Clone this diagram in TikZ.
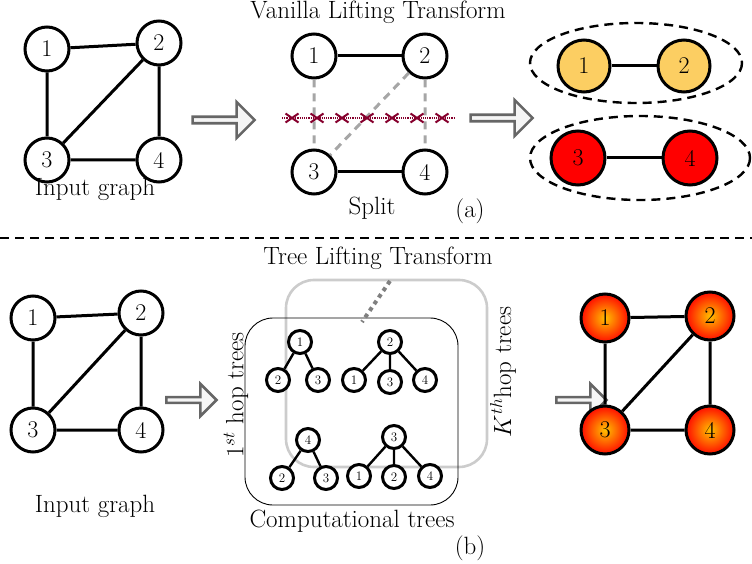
\documentclass[tikz,border=0pt]{standalone}
\usetikzlibrary{shapes.arrows,shapes.misc}
\begin{document}
\begin{tikzpicture}[x=1pt,y=-1pt,
  big/.style={circle,draw,line width=3pt,minimum size=44pt,inner sep=0pt,font=\fontsize{24}{26}\selectfont,fill=white},
  sm/.style={circle,draw,line width=3pt,minimum size=23pt,inner sep=0pt,font=\fontsize{13}{14}\selectfont,fill=white},
  ed/.style={line width=3pt},
  ged/.style={line width=3pt,gray!70,dash pattern=on 8pt off 6pt},
  harr/.style={single arrow,draw=gray!80!black,fill=gray!8,line width=2.6pt,minimum height=62pt,minimum width=36pt,single arrow head extend=6pt,inner sep=0pt},
  lab/.style={font=\fontsize{25}{27}\selectfont},
  hot/.style={big,shading=radial,inner color=orange!50!yellow,outer color=red!90!orange,minimum size=48pt}]
\useasboundingbox (0,0) rectangle (752,564);
% top
\node[lab] (t1) at (378,12) {Vanilla Lifting Transform};
\node[big] (a1) at (47,49) {1};
\node[big] (a2) at (159,43) {2};
\node[big] (a3) at (47,160) {3};
\node[big] (a4) at (159,160) {4};
\draw[ed] (a1)--(a2) (a1)--(a3) (a2)--(a3) (a2)--(a4) (a3)--(a4);
\node[lab] (il1) at (95,189) {Input graph};
\node[harr] (ar1) at (222,120) {};
\node[big] (s1) at (314,56) {1};
\node[big] (s2) at (425,56) {2};
\node[big] (s3) at (314,172) {3};
\node[big] (s4) at (425,172) {4};
\draw[ed] (s1)--(s2) (s3)--(s4);
\draw[ged] (s1)--(s3) (s2)--(s4) (s2)--(s3);
\draw[purple!70!black,densely dotted,line width=1.2pt] (282,118)--(454,118);
\foreach \i in {0,...,6}{\node[cross out,draw=purple!70!black,line width=2pt,minimum width=11pt,minimum height=7pt,inner sep=0pt] (c\i) at (292+\i*25,118) {};}
\node[lab] (sp) at (372,208) {Split};
\node[lab] (la) at (470,211) {(a)};
\node[harr] (ar2) at (500,118) {};
\draw[line width=2.4pt,dash pattern=on 9pt off 6pt] (636,63) ellipse [x radius=106, y radius=40];
\draw[line width=2.4pt,dash pattern=on 9pt off 6pt] (640,158) ellipse [x radius=110, y radius=42];
\node[big,fill=yellow!40!orange!60,minimum size=52pt] (r1) at (584,66) {1};
\node[big,fill=yellow!40!orange!60,minimum size=52pt] (r2) at (684,66) {2};
\node[big,fill=red,minimum size=54pt] (r3) at (578,158) {3};
\node[big,fill=red,minimum size=54pt] (r4) at (690,158) {4};
\draw[ed] (r1)--(r2) (r3)--(r4);
\draw[line width=2.4pt,dash pattern=on 9pt off 6pt] (0,238)--(752,238);
% bottom
\node[lab] (t2) at (378,258) {Tree Lifting Transform};
\node[big] (b1) at (33,318) {1};
\node[big] (b2) at (141,313) {2};
\node[big] (b3) at (33,430) {3};
\node[big] (b4) at (141,430) {4};
\draw[ed] (b1)--(b2) (b1)--(b3) (b2)--(b3) (b2)--(b4) (b3)--(b4);
\node[lab] (il2) at (95,506) {Input graph};
\node[harr,minimum height=50pt,minimum width=32pt] (ar3) at (190,400) {};
\draw[gray!40,line width=2.6pt,rounded corners=28pt] (286,280) rectangle (487,467);
\draw[line width=0.9pt,rounded corners=28pt] (245,318) rectangle (458,505);
\coordinate (d1) at (390,281);
\coordinate (d2) at (362,322);
\draw[gray,line width=4pt,dash pattern=on 4pt off 4pt] (d1)--(d2);
\node[lab,rotate=90] (h1) at (236,395) {$1^{st}$ hop trees};
\node[lab,rotate=90] (hk) at (503,372) {$K^{th}$hop trees};
\node[lab] (ct) at (352,521) {Computational trees};
\node[lab] (lb) at (470,548) {(b)};
\begin{scope}[every node/.style={sm}]
\node (p1) at (300,342) {1}; \node (p12) at (278,380) {2}; \node (p13) at (318,380) {3};
\node (p2) at (390,342) {2}; \node (p21) at (354,380) {1}; \node (p23) at (390,382) {3}; \node (p24) at (425,380) {4};
\node (p4) at (308,440) {4}; \node (p42) at (282,478) {2}; \node (p43) at (326,478) {3};
\node (p3) at (394,437) {3}; \node (p31) at (359,476) {1}; \node (p32) at (394,477) {2}; \node (p34) at (430,476) {4};
\end{scope}
\draw[line width=2.4pt] (p1)--(p12) (p1)--(p13) (p2)--(p21) (p2)--(p23) (p2)--(p24) (p4)--(p42) (p4)--(p43) (p3)--(p31) (p3)--(p32) (p3)--(p34);
\node[harr,minimum height=50pt,minimum width=32pt] (ar4) at (580,400) {};
\node[hot] (g1) at (605,318) {1};
\node[hot] (g2) at (710,316) {2};
\node[hot] (g3) at (605,430) {3};
\node[hot] (g4) at (710,430) {4};
\draw[ed] (g1)--(g2) (g1)--(g3) (g2)--(g3) (g2)--(g4) (g3)--(g4);
\end{tikzpicture}
\end{document}
